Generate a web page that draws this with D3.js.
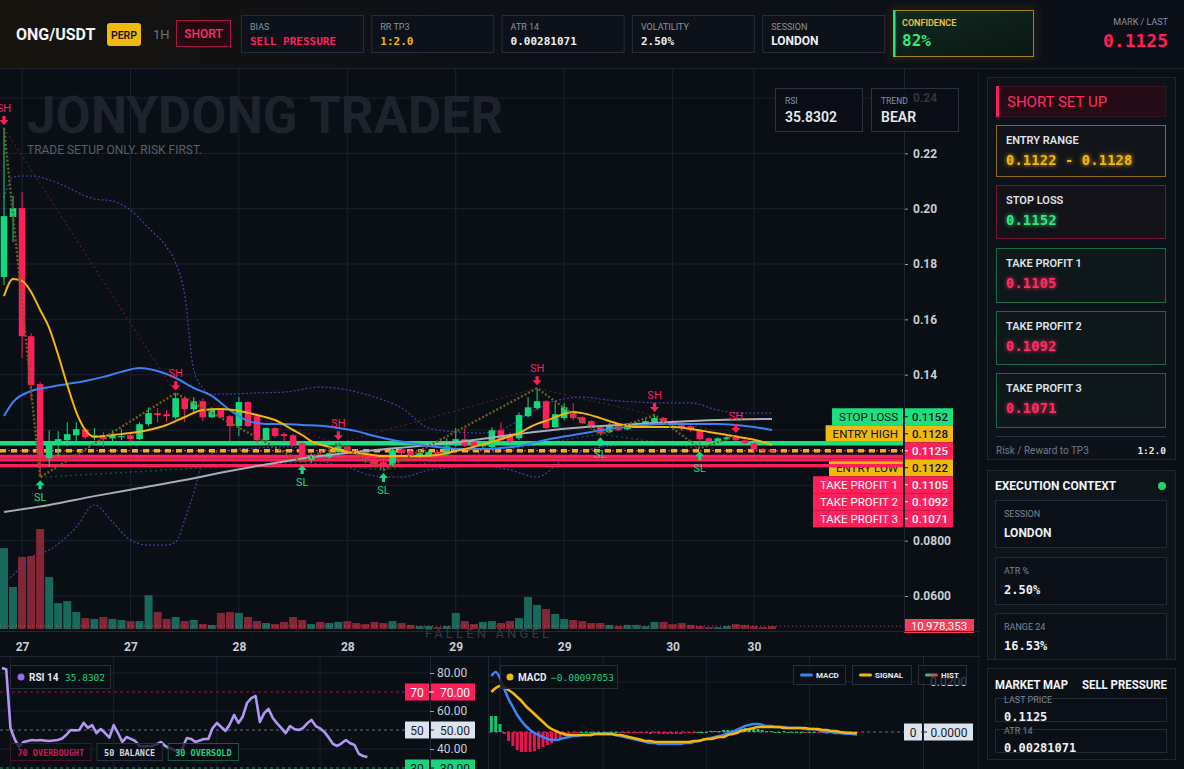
<!DOCTYPE html>
<html>
<head>
<meta charset="utf-8">
<script src="https://cdn.jsdelivr.net/npm/d3@7"></script>
<style>
  html, body { margin: 0; padding: 0; background: #0a0e15; overflow: hidden; }
  svg { display: block; }
</style>
</head>
<body>
<svg id="chart" width="1184" height="769"></svg>
<script>
// ---- candles (1H) ----
const OPEN  = [0.1753,0.1970,0.2002,0.1539,0.1366,0.1098,0.1152,0.1163,0.1181,0.1203,0.1174,0.1181,0.1170,0.1174,0.1181,0.1167,0.1221,0.1261,0.1257,0.1246,
               0.1315,0.1275,0.1304,0.1246,0.1272,0.1250,0.1214,0.1301,0.1250,0.1163,0.1207,0.1185,0.1181,0.1152,0.1091,0.1109,0.1102,0.1120,0.1141,0.1123,
               0.1109,0.1091,0.1084,0.1073,0.1130,0.1123,0.1105,0.1105,0.1120,0.1112,0.1145,0.1167,0.1156,0.1141,0.1138,0.1199,0.1181,0.1170,0.1250,0.1279,
               0.1304,0.1210,0.1243,0.1264,0.1246,0.1232,0.1210,0.1192,0.1221,0.1203,0.1210,0.1217,0.1225,0.1243,0.1232,0.1217,0.1214,0.1199,0.1170,0.1159,
               0.1167,0.1174,0.1163,0.1152,0.1130,0.1127];
const HIGH  = [0.2292,0.2046,0.2060,0.1550,0.1373,0.1199,0.1196,0.1228,0.1228,0.1207,0.1207,0.1192,0.1199,0.1203,0.1188,0.1228,0.1282,0.1279,0.1272,0.1333,
               0.1319,0.1319,0.1315,0.1282,0.1279,0.1254,0.1319,0.1304,0.1254,0.1210,0.1210,0.1192,0.1185,0.1156,0.1116,0.1120,0.1123,0.1152,0.1145,0.1130,
               0.1116,0.1098,0.1105,0.1134,0.1138,0.1130,0.1123,0.1127,0.1127,0.1170,0.1207,0.1207,0.1163,0.1156,0.1210,0.1228,0.1192,0.1264,0.1319,0.1351,
               0.1308,0.1297,0.1297,0.1297,0.1250,0.1235,0.1217,0.1225,0.1225,0.1225,0.1228,0.1239,0.1254,0.1246,0.1235,0.1221,0.1217,0.1203,0.1174,0.1174,
               0.1178,0.1178,0.1167,0.1156,0.1134,0.1130];
const LOW   = [0.1724,0.1879,0.1460,0.1308,0.1029,0.1065,0.1105,0.1141,0.1156,0.1167,0.1163,0.1138,0.1159,0.1163,0.1156,0.1163,0.1214,0.1228,0.1228,0.1239,
               0.1228,0.1261,0.1232,0.1243,0.1243,0.1159,0.1178,0.1210,0.1152,0.1156,0.1170,0.1156,0.1141,0.1084,0.1080,0.1084,0.1094,0.1109,0.1116,0.1105,
               0.1080,0.1065,0.1055,0.1069,0.1109,0.1102,0.1098,0.1102,0.1105,0.1105,0.1138,0.1138,0.1130,0.1134,0.1127,0.1156,0.1152,0.1163,0.1246,0.1272,
               0.1203,0.1207,0.1235,0.1235,0.1221,0.1203,0.1185,0.1188,0.1196,0.1199,0.1207,0.1214,0.1221,0.1225,0.1214,0.1196,0.1192,0.1134,0.1156,0.1156,
               0.1163,0.1159,0.1149,0.1116,0.1120,0.1120];
const CLOSE = [0.1973,0.2002,0.1539,0.1362,0.1098,0.1156,0.1167,0.1185,0.1203,0.1174,0.1181,0.1167,0.1181,0.1178,0.1167,0.1221,0.1261,0.1254,0.1250,0.1315,
               0.1275,0.1304,0.1246,0.1272,0.1246,0.1214,0.1301,0.1214,0.1163,0.1207,0.1178,0.1178,0.1145,0.1098,0.1109,0.1098,0.1116,0.1141,0.1123,0.1112,
               0.1087,0.1073,0.1076,0.1127,0.1116,0.1109,0.1116,0.1120,0.1112,0.1141,0.1167,0.1145,0.1138,0.1149,0.1199,0.1163,0.1159,0.1254,0.1282,0.1304,
               0.1207,0.1257,0.1282,0.1243,0.1225,0.1207,0.1188,0.1217,0.1199,0.1217,0.1221,0.1232,0.1243,0.1228,0.1217,0.1207,0.1199,0.1167,0.1159,0.1170,
               0.1174,0.1163,0.1152,0.1130,0.1127,0.1125];
// volume in millions
const VOLUME_M = [296,154,264,267,366,190,95,102,62,40,37,44,37,33,29,29,124,62,37,44,
                  29,33,18,15,59,62,59,44,29,22,18,26,44,33,18,26,22,26,29,22,
                  18,26,22,29,22,15,11,11,7,11,59,29,18,26,29,22,29,40,117,88,
                  73,55,37,33,29,22,22,15,11,15,15,11,26,26,18,22,15,11,7,7,
                  11,18,15,11,7,10.978353];

// ---- overlay lines, [candle index, price] read at sample points ----
const EMA_FAST = [[0,0.1684],[1,0.1746],[2,0.1739],[3,0.1699],[4,0.1634],[5,0.1569],[6,0.1471],[7,0.1363],[8,0.1265],[9,0.1200],
                  [10,0.1175],[12,0.1182],[14,0.1189],[16,0.1200],[18,0.1218],[20,0.1247],[22,0.1272],[24,0.1276],[26,0.1269],[28,0.1254],
                  [30,0.1236],[32,0.1200],[33,0.1182],[34,0.1160],[36,0.1139],[38,0.1121],[40,0.1113],[42,0.1106],[44,0.1106],[46,0.1106],
                  [48,0.1110],[50,0.1124],[52,0.1139],[54,0.1157],[56,0.1178],[57,0.1189],[58,0.1207],[59,0.1222],[60,0.1233],[62,0.1258],
                  [63,0.1265],[64,0.1261],[66,0.1243],[68,0.1222],[70,0.1211],[72,0.1211],[74,0.1211],[76,0.1204],[78,0.1193],[80,0.1182],
                  [82,0.1171],[84,0.1157],[85,0.1146]];
const EMA_SLOW = [[0,0.1251],[1,0.1301],[3,0.1341],[5,0.1355],[7,0.1366],[9,0.1377],[11,0.1392],[13,0.1410],[15,0.1424],[17,0.1413],
                  [19,0.1388],[21,0.1352],[23,0.1323],[25,0.1272],[27,0.1233],[29,0.1222],[31,0.1222],[33,0.1218],[35,0.1215],[37,0.1207],
                  [39,0.1196],[41,0.1178],[43,0.1164],[45,0.1153],[47,0.1142],[49,0.1135],[51,0.1131],[53,0.1131],[55,0.1135],[57,0.1142],
                  [59,0.1157],[61,0.1171],[63,0.1182],[65,0.1193],[67,0.1204],[69,0.1211],[71,0.1218],[73,0.1222],[75,0.1222],[77,0.1222],
                  [79,0.1222],[81,0.1218],[83,0.1211],[85,0.1200]];
const MA_LONG  = [[0,0.0904],[5,0.0929],[10,0.0961],[15,0.0990],[20,0.1019],[25,0.1052],[30,0.1081],[35,0.1106],[40,0.1124],[45,0.1139],
                  [52,0.1164],[57,0.1186],[63,0.1207],[68,0.1218],[74,0.1229],[79,0.1236],[85,0.1240]];
const BB_UPPER = [[0,0.2039],[1,0.2114],[2,0.2118],[3,0.2118],[5,0.2104],[7,0.2078],[9,0.2046],[10,0.2035],[12,0.2028],[14,0.1995],
                  [16,0.1930],[18,0.1861],[19,0.1804],[20,0.1688],[21,0.1417],[22,0.1352],[23,0.1330],[25,0.1330],[28,0.1334],[31,0.1337],
                  [35,0.1355],[38,0.1345],[41,0.1319],[44,0.1280],[47,0.1207],[50,0.1193],[53,0.1189],[55,0.1200],[58,0.1258],[61,0.1305],
                  [64,0.1319],[67,0.1308],[70,0.1301],[73,0.1298],[76,0.1298],[79,0.1272],[82,0.1261],[85,0.1261]];
const BB_LOWER = [[0,0.0647],[1,0.0676],[3,0.0741],[5,0.0766],[8,0.0849],[10,0.0929],[12,0.0868],[14,0.0802],[16,0.0784],[18,0.0784],
                  [19,0.0795],[20,0.0875],[21,0.0972],[22,0.1084],[23,0.1113],[25,0.1128],[28,0.1135],[31,0.1139],[33,0.1135],[35,0.1092],
                  [38,0.1066],[41,0.1034],[44,0.1030],[47,0.1055],[50,0.1066],[53,0.1070],[56,0.1055],[59,0.1030],[62,0.1095],[65,0.1131],
                  [68,0.1146],[72,0.1153],[76,0.1146],[80,0.1149],[85,0.1149]];

const SWING_HIGH = [0, 19, 37, 59, 72, 81];
const SWING_LOW  = [4, 33, 42, 66, 77];

const X_TICK_IDX    = [2, 14, 26, 38, 50, 62, 74, 83];
const X_TICK_LABELS = ['27', '27', '28', '28', '29', '29', '30', '30'];
const PRICE_TICKS   = [0.24, 0.22, 0.20, 0.18, 0.16, 0.14, 0.12, 0.10, 0.08, 0.06];

const LEVEL_NAMES  = ['STOP LOSS', 'ENTRY HIGH', 'LAST', 'ENTRY LOW', 'TAKE PROFIT 1', 'TAKE PROFIT 2', 'TAKE PROFIT 3'];
const LEVEL_PRICES = [0.1152, 0.1128, 0.1125, 0.1122, 0.1105, 0.1092, 0.1071];

// ---- oscillators ----
const RSI = [82.6,82.0,51.0,45.0,41.0,43.7,44.2,44.7,44.5,44.7,44.4,44.2,44.5,44.7,45.5,47.5,50.0,49.8,50.0,53.7,
             51.1,52.6,48.4,50.5,48.4,46.0,52.6,48.4,43.7,46.3,45.3,44.2,41.6,41.4,41.6,41.6,42.5,43.7,41.6,40.5,
             39.5,38.4,40.5,45.8,45.3,43.7,44.5,45.3,45.3,51.0,53.7,51.6,49.5,53.0,57.9,53.7,57.0,64.2,66.8,67.9,
             54.2,58.9,61.1,56.3,53.5,51.0,48.4,52.1,50.5,50.0,51.0,53.5,55.3,52.1,50.8,49.0,46.0,42.6,41.6,43.0,
             44.7,43.0,42.1,37.5,36.3,35.8302];
const RSI_TICKS  = [80, 60, 40];
const RSI_LEVELS = [70, 50, 30];
const RSI_BADGES = ['70 OVERBOUGHT', '50 BALANCE', '30 OVERSOLD'];

const MACD   = [0.0224,0.0240,0.0216,0.0172,0.0132,0.0100,0.0068,0.0044,0.0024,0.0008,-0.0004,-0.0012,-0.0020,-0.0028,-0.0032,-0.0032,-0.0028,-0.0024,-0.0020,-0.0016,
                -0.0016,-0.0012,-0.0012,-0.0012,-0.0008,-0.0008,-0.0008,-0.0008,-0.0008,-0.0012,-0.0016,-0.0020,-0.0024,-0.0028,-0.0032,-0.0036,-0.0040,-0.0044,-0.0044,-0.0048,
                -0.0048,-0.0048,-0.0048,-0.0048,-0.0048,-0.0044,-0.0044,-0.0040,-0.0036,-0.0032,-0.0028,-0.0024,-0.0020,-0.0016,-0.0012,-0.0004,0.0000,0.0008,0.0016,0.0024,
                0.0028,0.0032,0.0032,0.0028,0.0024,0.0024,0.0020,0.0020,0.0020,0.0016,0.0016,0.0016,0.0016,0.0012,0.0012,0.0012,0.0008,0.0004,0.0000,0.0000,
                -0.0004,-0.0004,-0.0006,-0.0007,-0.0008,-0.00097053];
const SIGNAL = [0.0160,0.0176,0.0184,0.0180,0.0168,0.0156,0.0140,0.0124,0.0104,0.0088,0.0072,0.0056,0.0040,0.0024,0.0012,0.0004,-0.0004,-0.0008,-0.0012,-0.0012,
                -0.0012,-0.0012,-0.0012,-0.0012,-0.0008,-0.0008,-0.0008,-0.0008,-0.0008,-0.0012,-0.0012,-0.0016,-0.0020,-0.0024,-0.0028,-0.0032,-0.0036,-0.0036,-0.0040,-0.0040,
                -0.0040,-0.0040,-0.0040,-0.0040,-0.0040,-0.0040,-0.0040,-0.0036,-0.0036,-0.0032,-0.0028,-0.0028,-0.0024,-0.0020,-0.0020,-0.0012,-0.0008,-0.0004,0.0004,0.0008,
                0.0012,0.0016,0.0020,0.0020,0.0020,0.0020,0.0020,0.0020,0.0016,0.0016,0.0016,0.0016,0.0016,0.0016,0.0012,0.0012,0.0012,0.0008,0.0008,0.0004,
                0.0004,0.0000,-0.0002,-0.0003,-0.0004,-0.0005];
const MACD_TICKS = [0.02];

// ---- dashboard text ----
const TOP_CARDS     = [['BIAS', 'SELL PRESSURE'], ['RR TP3', '1:2.0'], ['ATR 14', '0.00281071'], ['VOLATILITY', '2.50%'], ['SESSION', 'LONDON']];
const SETUP_CARDS   = [['ENTRY RANGE', '0.1122 - 0.1128'], ['STOP LOSS', '0.1152'], ['TAKE PROFIT 1', '0.1105'], ['TAKE PROFIT 2', '0.1092'], ['TAKE PROFIT 3', '0.1071']];
const CONTEXT_CARDS = [['SESSION', 'LONDON'], ['ATR %', '2.50%'], ['RANGE 24', '16.53%']];
const MAP_CARDS     = [['LAST PRICE', '0.1125'], ['ATR 14', '0.00281071']];

const W = 1184, H = 769;
const SANS = 'Roboto, "Noto Sans", "DejaVu Sans", sans-serif';
const MONO = '"DejaVu Sans Mono", "Liberation Mono", monospace';
const GREEN = '#14d97c', RED = '#ff1f5a', GOLD = '#f0b90b';

const svg = d3.select('#chart');
const defs = svg.append('defs');

// gradients + glow
const tg = defs.append('linearGradient').attr('id', 'topGrad');
tg.append('stop').attr('offset', 0).attr('stop-color', '#17140f');
tg.append('stop').attr('offset', 0.4).attr('stop-color', '#0d1017');
tg.append('stop').attr('offset', 1).attr('stop-color', '#0a0e16');

const cg = defs.append('linearGradient').attr('id', 'confGrad').attr('x2', 1).attr('y2', 1);
cg.append('stop').attr('offset', 0).attr('stop-color', '#0f2b1f');
cg.append('stop').attr('offset', 1).attr('stop-color', '#0b1614');

const hg = defs.append('linearGradient').attr('id', 'histGrad');
hg.append('stop').attr('offset', 0).attr('stop-color', GREEN);
hg.append('stop').attr('offset', 1).attr('stop-color', RED);

const glow = defs.append('filter').attr('id', 'glow')
  .attr('x', '-20%').attr('y', '-60%').attr('width', '140%').attr('height', '220%');
glow.append('feGaussianBlur').attr('stdDeviation', 2.2).attr('result', 'b');
const gm = glow.append('feMerge');
gm.append('feMergeNode').attr('in', 'b');
gm.append('feMergeNode').attr('in', 'SourceGraphic');

const soft = defs.append('filter').attr('id', 'soft')
  .attr('x', '-20%').attr('y', '-40%').attr('width', '140%').attr('height', '180%');
soft.append('feGaussianBlur').attr('stdDeviation', 5);

defs.append('clipPath').attr('id', 'mainClip')
  .append('rect').attr('x', 0).attr('y', 69).attr('width', 904).attr('height', 561);
defs.append('clipPath').attr('id', 'rsiClip')
  .append('rect').attr('x', 0).attr('y', 657).attr('width', 430).attr('height', 112);
defs.append('clipPath').attr('id', 'macdClip')
  .append('rect').attr('x', 489).attr('y', 657).attr('width', 434).attr('height', 112);
defs.append('clipPath').attr('id', 'ctxClip')
  .append('rect').attr('x', 987).attr('y', 470).attr('width', 189).attr('height', 190);

svg.append('rect').attr('width', W).attr('height', H).attr('fill', '#0a0e15');

// ---------------- top bar ----------------
const topG = svg.append('g');
topG.append('rect').attr('width', W).attr('height', 68).attr('fill', 'url(#topGrad)');
topG.append('line').attr('x1', 0).attr('x2', W).attr('y1', 68.5).attr('y2', 68.5).attr('stroke', '#1d2432');

topG.append('text').attr('x', 16).attr('y', 40)
  .attr('fill', '#f2f4f8').attr('font-family', SANS).attr('font-size', 16).attr('font-weight', 700)
  .text('ONG/USDT');
topG.append('rect').attr('x', 107).attr('y', 23).attr('width', 34).attr('height', 23).attr('rx', 3).attr('fill', GOLD);
topG.append('text').attr('x', 124).attr('y', 38.5).attr('text-anchor', 'middle')
  .attr('fill', '#1b1505').attr('font-family', SANS).attr('font-size', 10.5).attr('font-weight', 600).text('PERP');
topG.append('text').attr('x', 153).attr('y', 39)
  .attr('fill', '#6b7385').attr('font-family', SANS).attr('font-size', 13).text('1H');
topG.append('rect').attr('x', 176.5).attr('y', 20.5).attr('width', 54).attr('height', 26)
  .attr('fill', '#250a14').attr('stroke', '#a3163d');
topG.append('text').attr('x', 203.5).attr('y', 38).attr('text-anchor', 'middle')
  .attr('fill', '#ff2d62').attr('font-family', SANS).attr('font-size', 12).attr('font-weight', 500).text('SHORT');

const topValueColor = [RED, GOLD, '#eef0f4', '#eef0f4', '#eef0f4'];
TOP_CARDS.forEach(([label, value], k) => {
  const cx = 241 + k * 130.3;
  topG.append('rect').attr('x', cx + 0.5).attr('y', 15.5).attr('width', 122).attr('height', 37)
    .attr('fill', '#0c111a').attr('stroke', '#252d3b');
  topG.append('text').attr('x', cx + 9).attr('y', 30)
    .attr('fill', '#8893a5').attr('font-family', SANS).attr('font-size', 9).text(label);
  topG.append('text').attr('x', cx + 9).attr('y', 45)
    .attr('fill', topValueColor[k]).attr('font-weight', 700)
    .attr('font-family', label === 'SESSION' ? SANS : MONO).attr('font-size', label === 'SESSION' ? 12 : 11)
    .text(value);
});

// confidence card
topG.append('rect').attr('x', 893).attr('y', 10).attr('width', 141).attr('height', 47)
  .attr('fill', 'none').attr('stroke', '#b38a12').attr('stroke-width', 3).attr('opacity', 0.35).attr('filter', 'url(#soft)');
topG.append('rect').attr('x', 893.5).attr('y', 10.5).attr('width', 140).attr('height', 46)
  .attr('fill', 'url(#confGrad)').attr('stroke', '#a8820e');
topG.append('rect').attr('x', 893).attr('y', 10).attr('width', 2.5).attr('height', 47).attr('fill', '#1ee87a');
topG.append('text').attr('x', 902).attr('y', 26)
  .attr('fill', '#f0c040').attr('font-family', SANS).attr('font-size', 9).attr('font-weight', 600).text('CONFIDENCE');
topG.append('text').attr('x', 902).attr('y', 46)
  .attr('fill', '#2ee87a').attr('font-family', MONO).attr('font-size', 16).attr('font-weight', 700).text('82%');

topG.append('text').attr('x', 1168).attr('y', 25).attr('text-anchor', 'end')
  .attr('fill', '#8893a5').attr('font-family', SANS).attr('font-size', 9).text('MARK / LAST');
topG.append('text').attr('x', 1168).attr('y', 47).attr('text-anchor', 'end')
  .attr('fill', RED).attr('font-family', MONO).attr('font-size', 18).attr('font-weight', 700)
  .text(d3.format('.4f')(CLOSE[CLOSE.length - 1]));

// ---------------- main chart ----------------
const xMain  = d3.scaleLinear().domain([0, OPEN.length - 1]).range([4, 772]);
const yPrice = d3.scaleLinear().domain([0.06, 0.24]).range([596, 98]);
const yVol   = d3.scaleLinear().domain([0, d3.max(VOLUME_M)]).range([629, 529]);
const candles = OPEN.map((o, i) => ({ i, o, h: HIGH[i], l: LOW[i], c: CLOSE[i], v: VOLUME_M[i] }));

const back = svg.append('g').attr('clip-path', 'url(#mainClip)');

// grid
PRICE_TICKS.forEach(p => {
  back.append('line').attr('x1', 0).attr('x2', 904).attr('y1', yPrice(p)).attr('y2', yPrice(p))
    .attr('stroke', '#1a2030').attr('stroke-width', 1);
});
X_TICK_IDX.forEach(i => {
  back.append('line').attr('x1', xMain(i)).attr('x2', xMain(i)).attr('y1', 69).attr('y2', 630)
    .attr('stroke', '#1a2030').attr('stroke-width', 1);
});

// watermark
back.append('text').attr('x', 27).attr('y', 133)
  .attr('fill', '#1e232d').attr('font-family', SANS).attr('font-size', 51).attr('font-weight', 700)
  .attr('textLength', 476).attr('lengthAdjust', 'spacingAndGlyphs').text('JONYDONG TRADER');
back.append('text').attr('x', 27).attr('y', 154)
  .attr('fill', '#58606e').attr('font-family', SANS).attr('font-size', 12)
  .attr('textLength', 175).attr('lengthAdjust', 'spacingAndGlyphs').text('TRADE SETUP ONLY. RISK FIRST.');

// volume
back.selectAll('rect.vol').data(candles).join('rect').attr('class', 'vol')
  .attr('x', d => xMain(d.i) - 4).attr('width', 8)
  .attr('y', d => yVol(d.v)).attr('height', d => yVol(0) - yVol(d.v))
  .attr('fill', d => d.c >= d.o ? '#17695b' : '#832736');
back.append('line').attr('x1', 0).attr('x2', 904)
  .attr('y1', yVol(VOLUME_M[VOLUME_M.length - 1])).attr('y2', yVol(VOLUME_M[VOLUME_M.length - 1]))
  .attr('stroke', '#ff5a7a').attr('stroke-width', 1).attr('stroke-dasharray', '1 3').attr('opacity', 0.7);

// bollinger bands
const sampleLine = d3.line().x(d => xMain(d[0])).y(d => yPrice(d[1])).curve(d3.curveMonotoneX);
[BB_UPPER, BB_LOWER].forEach(band => {
  back.append('path').attr('d', sampleLine(band))
    .attr('fill', 'none').attr('stroke', '#4a3da6').attr('stroke-width', 1.2).attr('stroke-dasharray', '2 2');
});

// trend lines between consecutive swing highs / lows
const pivotLine = d3.line().x(d => xMain(d[0])).y(d => yPrice(d[1]));
back.append('path').attr('d', pivotLine(SWING_HIGH.map(i => [i, HIGH[i]])))
  .attr('fill', 'none').attr('stroke', '#5c1830').attr('stroke-width', 1.2).attr('stroke-dasharray', '2 3');
back.append('path').attr('d', pivotLine(SWING_LOW.map(i => [i, LOW[i]])))
  .attr('fill', 'none').attr('stroke', '#1c4a36').attr('stroke-width', 1.5).attr('stroke-dasharray', '2 3');

// level labels on price axis (stacked around the last price)
const lastK = LEVEL_NAMES.indexOf('LAST');
const natural = LEVEL_PRICES.map(p => yPrice(p));
const slot = natural.slice();
for (let k = lastK - 1; k >= 0; k--) slot[k] = Math.min(natural[k], slot[k + 1] - 17);
for (let k = lastK + 1; k < slot.length; k++) slot[k] = Math.max(natural[k], slot[k - 1] + 17);

const levelStyle = name =>
  name.startsWith('STOP')  ? { bg: '#1be07d', fg: '#0b0f17', line: '#1be07d', w: 4.5 } :
  name.startsWith('ENTRY') ? { bg: GOLD,      fg: '#0b0f17', line: GOLD,      w: 2 }   :
  name === 'LAST'          ? { bg: RED,       fg: '#ffffff', line: '#ff4d6d', w: 1 }   :
                             { bg: RED,       fg: '#ffffff', line: RED,       w: 3.2 };

// price axis; tick labels that sit under a level label are left out
const covered = p => slot.some(s => Math.abs(yPrice(p) - s) < 12);
const axisG = svg.append('g');
const yAxis = d3.axisRight(yPrice).tickValues(PRICE_TICKS.filter(p => !covered(p)))
  .tickFormat(p => p >= 0.1 ? d3.format('.2f')(p) : d3.format('.4f')(p))
  .tickSize(4).tickPadding(5);
axisG.append('g').attr('transform', 'translate(904,0)').call(yAxis)
  .call(g => g.select('.domain').remove())
  .call(g => g.selectAll('line').attr('stroke', '#9aa2b0'))
  .call(g => g.selectAll('text').attr('fill', '#c9cdd5').attr('font-family', SANS)
    .attr('font-size', 12).attr('font-weight', 700));

const labelG = svg.append('g');
LEVEL_NAMES.forEach((name, k) => {
  const st = levelStyle(name);
  const cy = slot[k];
  if (name !== 'LAST') {
    const t = labelG.append('text').attr('x', 898).attr('y', cy + 4).attr('text-anchor', 'end')
      .attr('fill', st.fg).attr('font-family', SANS).attr('font-size', 11.5).text(name);
    const tw = t.node().getComputedTextLength();
    labelG.insert('rect', 'text').attr('x', 898 - tw - 7).attr('y', cy - 8.5)
      .attr('width', tw + 12).attr('height', 17).attr('fill', st.bg);
  }
  labelG.append('rect').attr('x', 904).attr('y', cy - 8.5).attr('width', 49).attr('height', 17).attr('fill', st.bg);
  labelG.append('line').attr('x1', 904).attr('x2', 908).attr('y1', cy).attr('y2', cy)
    .attr('stroke', st.fg).attr('stroke-width', 1);
  labelG.append('text').attr('x', 930).attr('y', cy + 4).attr('text-anchor', 'middle')
    .attr('fill', st.fg).attr('font-family', SANS).attr('font-size', 11.5).attr('font-weight', 500)
    .text(d3.format('.4f')(LEVEL_PRICES[k]));
});

// volume label
labelG.append('rect').attr('x', 904).attr('y', 619).attr('width', 70).attr('height', 14).attr('fill', '#f23d5b');
labelG.append('text').attr('x', 939).attr('y', 630).attr('text-anchor', 'middle')
  .attr('fill', '#ffffff').attr('font-family', SANS).attr('font-size', 11.5)
  .text(d3.format(',')(Math.round(VOLUME_M[VOLUME_M.length - 1] * 1e6)));

const front = svg.append('g').attr('clip-path', 'url(#mainClip)');

// level lines
LEVEL_NAMES.forEach((name, k) => {
  const st = levelStyle(name);
  const ln = front.append('line').attr('x1', 0).attr('x2', 903)
    .attr('y1', yPrice(LEVEL_PRICES[k])).attr('y2', yPrice(LEVEL_PRICES[k]))
    .attr('stroke', st.line).attr('stroke-width', st.w);
  if (name.startsWith('ENTRY')) ln.attr('stroke-dasharray', '6 5');
  if (name === 'LAST') ln.attr('stroke-dasharray', '2 2');
});

// candles
const cg2 = front.append('g');
cg2.selectAll('line.wick').data(candles).join('line').attr('class', 'wick')
  .attr('x1', d => xMain(d.i)).attr('x2', d => xMain(d.i))
  .attr('y1', d => yPrice(d.h)).attr('y2', d => yPrice(d.l))
  .attr('stroke', d => d.c >= d.o ? GREEN : RED).attr('stroke-width', 1);
cg2.selectAll('rect.body').data(candles).join('rect').attr('class', 'body')
  .attr('x', d => xMain(d.i) - 3.3).attr('width', 6.6)
  .attr('y', d => yPrice(Math.max(d.o, d.c)))
  .attr('height', d => Math.max(1.2, Math.abs(yPrice(d.o) - yPrice(d.c))))
  .attr('fill', d => d.c >= d.o ? GREEN : RED);

// moving averages
front.append('path').attr('d', sampleLine(MA_LONG))
  .attr('fill', 'none').attr('stroke', '#a9adb7').attr('stroke-width', 2);
front.append('path').attr('d', sampleLine(EMA_SLOW))
  .attr('fill', 'none').attr('stroke', '#3b82f6').attr('stroke-width', 2);
front.append('path').attr('d', sampleLine(EMA_FAST))
  .attr('fill', 'none').attr('stroke', '#f5b50a').attr('stroke-width', 2);

// zigzag through swing points
const swings = SWING_HIGH.map(i => [i, HIGH[i]]).concat(SWING_LOW.map(i => [i, LOW[i]]))
  .sort((a, b) => a[0] - b[0]);
front.append('path').attr('d', pivotLine(swings))
  .attr('fill', 'none').attr('stroke', '#6e6120').attr('stroke-width', 2.4).attr('stroke-dasharray', '2 2');

// swing markers
function blockArrow(xc, tip, dir) {
  const yb = tip - dir * 9, yh = tip - dir * 5;
  return `M${xc - 1.6},${yb}L${xc + 1.6},${yb}L${xc + 1.6},${yh}L${xc + 4.6},${yh}L${xc},${tip}L${xc - 4.6},${yh}L${xc - 1.6},${yh}Z`;
}
SWING_HIGH.forEach(i => {
  const xc = xMain(i), yh = yPrice(HIGH[i]);
  front.append('path').attr('d', blockArrow(xc, yh - 3, 1)).attr('fill', RED);
  front.append('text').attr('x', xc).attr('y', yh - 16).attr('text-anchor', 'middle')
    .attr('fill', RED).attr('font-family', SANS).attr('font-size', 11).text('SH');
});
SWING_LOW.forEach(i => {
  const xc = xMain(i), yl = yPrice(LOW[i]);
  front.append('path').attr('d', blockArrow(xc, yl + 3, -1)).attr('fill', GREEN);
  front.append('text').attr('x', xc).attr('y', yl + 24).attr('text-anchor', 'middle')
    .attr('fill', GREEN).attr('font-family', SANS).attr('font-size', 11).text('SL');
});

// chart frame
svg.append('line').attr('x1', 904.5).attr('x2', 904.5).attr('y1', 69).attr('y2', 631).attr('stroke', '#1f2635');
svg.append('line').attr('x1', 0).attr('x2', 980).attr('y1', 631.5).attr('y2', 631.5).attr('stroke', '#1f2635');
svg.append('line').attr('x1', 978.5).attr('x2', 978.5).attr('y1', 69).attr('y2', 769).attr('stroke', '#141a25');

// x axis
const xAxis = d3.axisBottom(xMain).tickValues(X_TICK_IDX).tickFormat((d, k) => X_TICK_LABELS[k]).tickSize(0).tickPadding(10);
svg.append('g').attr('transform', 'translate(0,632)').call(xAxis)
  .call(g => g.select('.domain').remove())
  .call(g => g.selectAll('text').attr('fill', '#c9cdd5').attr('font-family', SANS)
    .attr('font-size', 12).attr('font-weight', 700));

svg.append('text').attr('x', 487).attr('y', 638).attr('text-anchor', 'middle')
  .attr('fill', '#343a46').attr('font-family', SANS).attr('font-size', 13)
  .attr('textLength', 124).attr('lengthAdjust', 'spacing').text('FALLEN ANGEL');

// RSI / TREND stat boxes
[['RSI', d3.format('.4f')(RSI[RSI.length - 1])], ['TREND', 'BEAR']].forEach(([label, value], k) => {
  const bx = 775 + k * 96;
  svg.append('rect').attr('x', bx + 0.5).attr('y', 88.5).attr('width', 87).attr('height', 43)
    .attr('fill', '#0a0e15').attr('fill-opacity', 0.8).attr('stroke', '#2a3242');
  svg.append('text').attr('x', bx + 10).attr('y', 104)
    .attr('fill', '#8893a5').attr('font-family', SANS).attr('font-size', 8.5).text(label);
  svg.append('text').attr('x', bx + 10).attr('y', 122)
    .attr('fill', '#e6e9ef').attr('font-family', SANS).attr('font-size', 14).attr('font-weight', 600).text(value);
});

// ---------------- RSI panel ----------------
svg.append('line').attr('x1', 0).attr('x2', 980).attr('y1', 656.5).attr('y2', 656.5).attr('stroke', '#1f2635');
svg.append('line').attr('x1', 488.5).attr('x2', 488.5).attr('y1', 657).attr('y2', H).attr('stroke', '#1f2635');

const xRsi = d3.scaleLinear().domain([0, RSI.length - 1]).range([1.9, 367.4]);
const yRsi = d3.scaleLinear().domain([30, 80]).range([768, 673]);
const rsiG = svg.append('g').attr('clip-path', 'url(#rsiClip)');
RSI_TICKS.forEach(v => rsiG.append('line').attr('x1', 0).attr('x2', 430).attr('y1', yRsi(v)).attr('y2', yRsi(v)).attr('stroke', '#1a2030'));
[2, 26, 50, 74].forEach(i => rsiG.append('line').attr('x1', xRsi(i)).attr('x2', xRsi(i)).attr('y1', 657).attr('y2', H).attr('stroke', '#1a2030'));

const rsiLevelStyle = { 70: { line: '#8a1c3c', bg: RED, fg: '#ffffff' },
                        50: { line: '#6a7080', bg: '#dbe3ee', fg: '#1a1f2b' },
                        30: { line: '#16955a', bg: '#19d27a', fg: '#0b0f17' } };
RSI_LEVELS.forEach(v => {
  rsiG.append('line').attr('x1', 0).attr('x2', 430).attr('y1', yRsi(v)).attr('y2', yRsi(v))
    .attr('stroke', rsiLevelStyle[v].line).attr('stroke-dasharray', '3 3');
});
rsiG.append('path')
  .attr('d', d3.line().x((d, i) => xRsi(i)).y(d => yRsi(d))(RSI))
  .attr('fill', 'none').attr('stroke', '#b197f2').attr('stroke-width', 2.6).attr('stroke-linejoin', 'round');

// rsi legend + badges
svg.append('rect').attr('x', 10.5).attr('y', 665.5).attr('width', 100).attr('height', 23)
  .attr('fill', '#0a0e15').attr('fill-opacity', 0.85).attr('stroke', '#262d3b');
svg.append('circle').attr('cx', 21).attr('cy', 677).attr('r', 3.5).attr('fill', '#9b6cf0');
svg.append('text').attr('x', 29).attr('y', 681)
  .attr('fill', '#e6e9ef').attr('font-family', SANS).attr('font-size', 10).attr('font-weight', 700).text('RSI 14');
svg.append('text').attr('x', 65).attr('y', 681)
  .attr('fill', '#19d27a').attr('font-family', MONO).attr('font-size', 9.5).text(d3.format('.4f')(RSI[RSI.length - 1]));

const badgeStyle = [{ stroke: '#4a1428', fg: '#c21a4e' }, { stroke: '#2a3140', fg: '#d3d7de' }, { stroke: '#135c3a', fg: '#19d27a' }];
let bx = 10.5;
RSI_BADGES.forEach((txt, k) => {
  const t = svg.append('text').attr('y', 755.5)
    .attr('fill', badgeStyle[k].fg).attr('font-family', MONO).attr('font-size', 8.5).attr('font-weight', 700).text(txt);
  const tw = t.node().getComputedTextLength();
  t.attr('x', bx + 7);
  svg.insert('rect', () => t.node()).attr('x', bx).attr('y', 743.5).attr('width', tw + 14).attr('height', 17)
    .attr('fill', '#0a0e15').attr('fill-opacity', 0.75).attr('stroke', badgeStyle[k].stroke);
  bx += tw + 14 + 6;
});

// rsi axis
svg.append('line').attr('x1', 430.5).attr('x2', 430.5).attr('y1', 657).attr('y2', H).attr('stroke', '#1f2635');
svg.append('g').attr('transform', 'translate(430,0)')
  .call(d3.axisRight(yRsi).tickValues(RSI_TICKS).tickFormat(d3.format('.2f')).tickSize(4).tickPadding(3))
  .call(g => g.select('.domain').remove())
  .call(g => g.selectAll('line').attr('stroke', '#9aa2b0'))
  .call(g => g.selectAll('text').attr('fill', '#c9cdd5').attr('font-family', SANS).attr('font-size', 12));
RSI_LEVELS.forEach(v => {
  const st = rsiLevelStyle[v], cy = yRsi(v);
  svg.append('rect').attr('x', 405).attr('y', cy - 8.5).attr('width', 24).attr('height', 17).attr('fill', st.bg);
  svg.append('text').attr('x', 417).attr('y', cy + 4.5).attr('text-anchor', 'middle')
    .attr('fill', st.fg).attr('font-family', SANS).attr('font-size', 12).text(v);
  svg.append('rect').attr('x', 431).attr('y', cy - 8.5).attr('width', 44).attr('height', 17).attr('fill', st.bg);
  svg.append('line').attr('x1', 429).attr('x2', 434).attr('y1', cy).attr('y2', cy).attr('stroke', st.fg);
  svg.append('text').attr('x', 455).attr('y', cy + 4.5).attr('text-anchor', 'middle')
    .attr('fill', st.fg).attr('font-family', SANS).attr('font-size', 12).text(d3.format('.2f')(v));
});

// ---------------- MACD panel ----------------
const xMacd = d3.scaleLinear().domain([0, MACD.length - 1]).range([491.4, 856.9]);
const yMacd = d3.scaleLinear().domain([0, 0.02]).range([732, 682]);
const mG = svg.append('g').attr('clip-path', 'url(#macdClip)');
MACD_TICKS.forEach(v => mG.append('line').attr('x1', 489).attr('x2', 923).attr('y1', yMacd(v)).attr('y2', yMacd(v)).attr('stroke', '#1a2030'));
[2, 26, 50, 74].forEach(i => mG.append('line').attr('x1', xMacd(i)).attr('x2', xMacd(i)).attr('y1', 657).attr('y2', H).attr('stroke', '#1a2030'));
mG.append('line').attr('x1', 489).attr('x2', 923).attr('y1', yMacd(0)).attr('y2', yMacd(0))
  .attr('stroke', '#6b7280').attr('stroke-dasharray', '3 3');

const hist = MACD.map((m, i) => m - SIGNAL[i]);
mG.selectAll('rect.hist').data(hist).join('rect').attr('class', 'hist')
  .attr('x', (d, i) => xMacd(i) - 1.5).attr('width', 3)
  .attr('y', d => Math.min(yMacd(0), yMacd(d)))
  .attr('height', d => Math.max(1, Math.abs(yMacd(d) - yMacd(0))))
  .attr('fill', d => d >= 0 ? '#19c26f' : '#e8154f');
mG.append('path').attr('d', d3.line().x((d, i) => xMacd(i)).y(d => yMacd(d)).curve(d3.curveMonotoneX)(MACD))
  .attr('fill', 'none').attr('stroke', '#3b82f6').attr('stroke-width', 2.6);
mG.append('path').attr('d', d3.line().x((d, i) => xMacd(i)).y(d => yMacd(d)).curve(d3.curveMonotoneX)(SIGNAL))
  .attr('fill', 'none').attr('stroke', '#f5b50a').attr('stroke-width', 2.6);

svg.append('line').attr('x1', 923.5).attr('x2', 923.5).attr('y1', 657).attr('y2', H).attr('stroke', '#1f2635');
svg.append('g').attr('transform', 'translate(923,0)')
  .call(d3.axisRight(yMacd).tickValues(MACD_TICKS).tickFormat(d3.format('.4f')).tickSize(0).tickPadding(7))
  .call(g => g.select('.domain').remove())
  .call(g => g.selectAll('text').attr('fill', '#c9cdd5').attr('font-family', SANS).attr('font-size', 12));

// zero label
svg.append('rect').attr('x', 904).attr('y', 723.5).attr('width', 18).attr('height', 17).attr('fill', '#dbe3ee');
svg.append('text').attr('x', 913).attr('y', 736.5).attr('text-anchor', 'middle')
  .attr('fill', '#1a1f2b').attr('font-family', SANS).attr('font-size', 12).text('0');
svg.append('rect').attr('x', 924).attr('y', 723.5).attr('width', 49).attr('height', 17).attr('fill', '#dbe3ee');
svg.append('line').attr('x1', 921).attr('x2', 927).attr('y1', 732).attr('y2', 732).attr('stroke', '#1a1f2b');
svg.append('text').attr('x', 949).attr('y', 736.5).attr('text-anchor', 'middle')
  .attr('fill', '#1a1f2b').attr('font-family', SANS).attr('font-size', 12).text(d3.format('.4f')(0));

// macd legends
svg.append('rect').attr('x', 500.5).attr('y', 665.5).attr('width', 117).attr('height', 23)
  .attr('fill', '#0a0e15').attr('fill-opacity', 0.85).attr('stroke', '#262d3b');
svg.append('circle').attr('cx', 510).attr('cy', 677).attr('r', 3.5).attr('fill', GOLD);
svg.append('text').attr('x', 518).attr('y', 681)
  .attr('fill', '#e6e9ef').attr('font-family', SANS).attr('font-size', 10).attr('font-weight', 700).text('MACD');
svg.append('text').attr('x', 551).attr('y', 681)
  .attr('fill', '#19d27a').attr('font-family', MONO).attr('font-size', 9.5).text(d3.format('.8f')(MACD[MACD.length - 1]));

[['MACD', '#3b82f6', 793, 52], ['SIGNAL', GOLD, 852, 59], ['HIST', 'url(#histGrad)', 918, 48]].forEach(([name, col, lx, lw]) => {
  svg.append('rect').attr('x', lx + 0.5).attr('y', 665.5).attr('width', lw).attr('height', 19)
    .attr('fill', '#0a0e15').attr('fill-opacity', 0.7).attr('stroke', '#262d3b');
  svg.append('rect').attr('x', lx + 7).attr('y', 673.5).attr('width', 13).attr('height', 3).attr('rx', 1.5).attr('fill', col);
  svg.append('text').attr('x', lx + 23).attr('y', 678)
    .attr('fill', '#e6e9ef').attr('font-family', SANS).attr('font-size', 8).attr('font-weight', 700).text(name);
});

// ---------------- right panel: setup ----------------
const rp = svg.append('g');
rp.append('rect').attr('x', 987.5).attr('y', 77.5).attr('width', 188).attr('height', 382)
  .attr('fill', '#0d121a').attr('stroke', '#1e2634');
rp.append('rect').attr('x', 996.5).attr('y', 86.5).attr('width', 169).attr('height', 30)
  .attr('fill', '#240b15').attr('stroke', '#3b1020');
rp.append('rect').attr('x', 996).attr('y', 86).attr('width', 3).attr('height', 31).attr('fill', RED);
rp.append('text').attr('x', 1007).attr('y', 107)
  .attr('fill', '#ff2d62').attr('font-family', SANS).attr('font-size', 15).text('SHORT SET UP');

const setupY = [125, 185, 248, 311, 373];
const setupH = [51, 53, 54, 53, 54];
const setupStyle = name =>
  name.startsWith('ENTRY') ? { stroke: '#8c6a10', fill: '#12141a', val: '#f5b50a' } :
  name.startsWith('STOP')  ? { stroke: '#74162f', fill: '#131219', val: '#2ee87a' } :
                             { stroke: '#166b42', fill: '#0e171a', val: '#ff2d62' };
SETUP_CARDS.forEach(([label, value], k) => {
  const st = setupStyle(label), y0 = setupY[k];
  rp.append('rect').attr('x', 996.5).attr('y', y0 + 0.5).attr('width', 169).attr('height', setupH[k])
    .attr('fill', st.fill).attr('stroke', st.stroke);
  rp.append('text').attr('x', 1006).attr('y', y0 + 19)
    .attr('fill', '#dfe3ea').attr('font-family', SANS).attr('font-size', 11).attr('font-weight', 600).text(label);
  rp.append('text').attr('x', 1006).attr('y', y0 + 40)
    .attr('fill', st.val).attr('font-family', MONO).attr('font-size', 14).attr('font-weight', 700)
    .attr('filter', 'url(#glow)').text(value);
});
rp.append('line').attr('x1', 996).attr('x2', 1166).attr('y1', 436.5).attr('y2', 436.5).attr('stroke', '#2a3344');
rp.append('text').attr('x', 996).attr('y', 454)
  .attr('fill', '#717a8a').attr('font-family', SANS).attr('font-size', 10).text('Risk / Reward to TP3');
rp.append('text').attr('x', 1166).attr('y', 454).attr('text-anchor', 'end')
  .attr('fill', '#e6e9ef').attr('font-family', MONO).attr('font-size', 9.5).attr('font-weight', 700).text('1:2.0');

// ---------------- right panel: execution context ----------------
const ctx = svg.append('g').attr('clip-path', 'url(#ctxClip)');
ctx.append('rect').attr('x', 987.5).attr('y', 470.5).attr('width', 188).attr('height', 200)
  .attr('fill', '#0d141a').attr('stroke', '#1e2634');
ctx.append('text').attr('x', 995).attr('y', 490)
  .attr('fill', '#f2f4f8').attr('font-family', SANS).attr('font-size', 12).attr('font-weight', 700).text('EXECUTION CONTEXT');
ctx.append('circle').attr('cx', 1162).attr('cy', 486).attr('r', 4).attr('fill', '#22d36b');
const ctxY = [500, 557, 613];
CONTEXT_CARDS.forEach(([label, value], k) => {
  const y0 = ctxY[k];
  ctx.append('rect').attr('x', 995.5).attr('y', y0 + 0.5).attr('width', 171).attr('height', 47)
    .attr('fill', '#0b1018').attr('stroke', '#222a38');
  ctx.append('text').attr('x', 1004).attr('y', y0 + 17)
    .attr('fill', '#7c8595').attr('font-family', SANS).attr('font-size', 9).text(label);
  ctx.append('text').attr('x', 1004).attr('y', y0 + 37)
    .attr('fill', '#eef0f4').attr('font-weight', 700)
    .attr('font-family', label === 'SESSION' ? SANS : MONO).attr('font-size', 12).text(value);
});
svg.append('line').attr('x1', 987.5).attr('x2', 987.5).attr('y1', 470).attr('y2', 660).attr('stroke', '#1e2634');
svg.append('line').attr('x1', 1175.5).attr('x2', 1175.5).attr('y1', 470).attr('y2', 660).attr('stroke', '#1e2634');
svg.append('line').attr('x1', 987).attr('x2', 1176).attr('y1', 659.5).attr('y2', 659.5).attr('stroke', '#1e2634');

// ---------------- right panel: market map ----------------
const mm = svg.append('g');
mm.append('rect').attr('x', 987.5).attr('y', 668.5).attr('width', 188).attr('height', 91)
  .attr('fill', '#0b1017').attr('stroke', '#1e2634');
mm.append('text').attr('x', 995).attr('y', 689)
  .attr('fill', '#f2f4f8').attr('font-family', SANS).attr('font-size', 12).attr('font-weight', 700)
  .attr('textLength', 73).attr('lengthAdjust', 'spacingAndGlyphs').text('MARKET MAP');
mm.append('text').attr('x', 1082).attr('y', 689)
  .attr('fill', '#f2f4f8').attr('font-family', SANS).attr('font-size', 12).attr('font-weight', 700)
  .attr('textLength', 85).attr('lengthAdjust', 'spacingAndGlyphs').text('SELL PRESSURE');
const mapY = [698, 729];
MAP_CARDS.forEach(([label, value], k) => {
  const y0 = mapY[k];
  mm.append('rect').attr('x', 995.5).attr('y', y0 + 0.5).attr('width', 171).attr('height', 23)
    .attr('fill', '#0b1018').attr('stroke', '#222a38');
  mm.append('text').attr('x', 1004).attr('y', y0 + 5)
    .attr('fill', '#7c8595').attr('font-family', SANS).attr('font-size', 9).text(label);
  mm.append('text').attr('x', 1004).attr('y', y0 + 23)
    .attr('fill', '#eef0f4').attr('font-family', MONO).attr('font-size', 12).attr('font-weight', 700).text(value);
});
</script>
</body>
</html>
